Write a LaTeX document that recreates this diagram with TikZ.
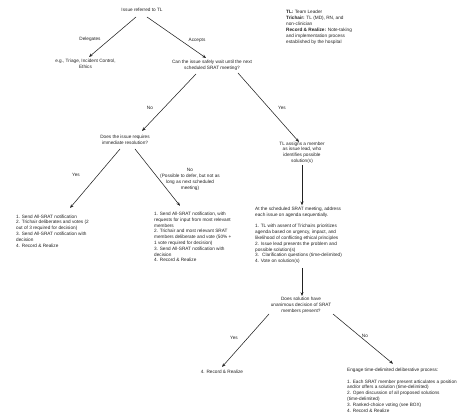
\documentclass[tikz,border=0pt]{standalone}
\usepackage{fontspec}
\setmainfont{Liberation Sans}
\usepackage{tikz}
\usetikzlibrary{arrows.meta,calc}
\definecolor{ink}{HTML}{222222}
\tikzset{
  >={Stealth[length=3.8pt,width=3pt]},
  txt/.style={font=\fontsize{4.7}{5.8}\selectfont,text=ink,inner sep=0pt,align=center},
  lst/.style={txt,align=left,anchor=north west},
  lab/.style={txt},
  arr/.style={->,draw=ink,line width=0.55pt},
}
\begin{document}
\begin{tikzpicture}[x=1pt,y=-1pt]
\useasboundingbox (0,0) rectangle (474,419);
% questions and outcomes
\node[txt] (issue) at (142,9.5) {Issue referred to TL};
\node[lst,font=\fontsize{4.7}{6}\selectfont] (legend) at (286,10.3) {\textbf{TL:} Team Leader\\\textbf{Trichair:} TL (MD), RN, and\\non-clinician\\\textbf{Record \& Realize:} Note-taking\\and implementation process\\established by the hospital};
\node[txt] (triage) at (85.5,63.5) {e.g., Triage, Incident Control,\\Ethics};
\node[txt] (wait) at (212,65.5) {Can the issue safely wait until the next\\scheduled SRAT meeting?};
\node[txt] (immed) at (125,139.5) {Does the issue requires\\immediate resolution?};
\node[txt] (assign) at (302,152.5) {TL assigns a member\\as issue lead, who\\identifies possible\\solution(s)};
\node[lst] (urgent) at (16,214.5) {1. Send All-SRAT notification\\2. Trichair deliberates and votes (2\\out of 3 required for decision)\\3. Send All-SRAT notification with\\decision\\4. Record \& Realize};
\node[lst] (defer) at (154,211.8) {1. Send All-SRAT notification, with\\requests for input from most relevant\\members\\2. Trichair and most relevant SRAT\\members deliberate and vote (50\% +\\1 vote required for decision)\\3. Send All-SRAT notification with\\decision\\4. Record \& Realize};
\node[lst] (meeting) at (255,206.8) {At the scheduled SRAT meeting, address\\each issue on agenda sequentially.\\[5.8pt]1. TL with assent of Trichairs prioritizes\\agenda based on urgency, impact, and\\likelihood of conflicting ethical principles\\2. Issue lead presents the problem and\\possible solution(s)\\3.~ Clarification questions (time-delimited)\\4. Vote on solution(s)};
\node[txt] (unan) at (301,305.5) {Does solution have\\unanimous decision of SRAT\\members present?};
\node[txt] (record) at (222,372) {4. Record \& Realize};
\node[lst] (engage) at (347,367.8) {Engage time-delimited deliberative process:\\[5.8pt]1. Each SRAT member present articulates a position\\and/or offers a solution (time-delimited)\\2. Open discussion of all proposed solutions\\(time-delimited)\\3. Ranked-choice voting (see BOX)\\4. Record \& Realize};
% edge labels
\foreach \x/\y/\t [count=\i] in {90/39.5/Delegates,197/40/Accepts,150/108/No,282/108/Yes,76/175/Yes,190/179.5/{No\\(Possible to defer, but not as\\long as next scheduled\\meeting)},234/338/Yes,365/336/No}
  \node[lab] (lab\i) at (\x,\y) {\t};
% connectors
\draw[arr] ($(issue)+(-6,7.5)$) -- ($(triage)+(3.5,-6.5)$);
\draw[arr] ($(issue)+(5,7.5)$) -- ($(wait)+(-6,-7.5)$);
\draw[arr] ($(wait)+(-16,8.5)$) -- ($(immed)+(17,-8.5)$);
\draw[arr] ($(wait)+(26,7.5)$) -- ($(assign)+(-3,-10.5)$);
\draw[arr] ($(immed)+(-5,9.5)$) -- ($(urgent.north west)+(54,-6.5)$);
\draw[arr] ($(immed)+(10,9.5)$) -- ($(defer.north west)+(26,-6)$);
\draw[arr] ($(assign)+(0,12.5)$) -- ($(meeting.north west)+(47,-1.5)$);
\draw[arr] ($(meeting.north west)+(47,61)$) -- ($(unan)+(1,-9.5)$);
\draw[arr] ($(unan)+(-32,8.5)$) -- ($(record)+(0,-5)$);
\draw[arr] ($(unan)+(32,8.5)$) -- ($(engage.north west)+(46,-4)$);
\end{tikzpicture}
\end{document}
